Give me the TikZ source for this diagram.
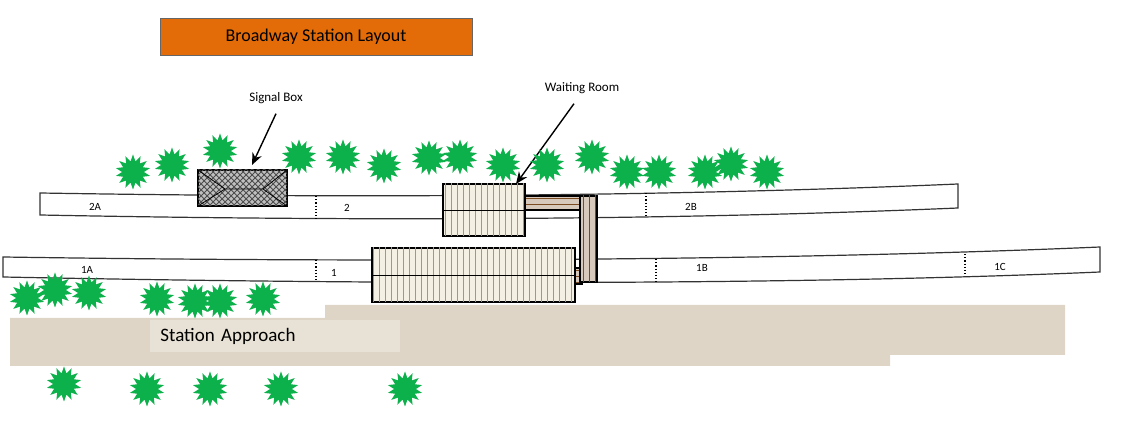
\documentclass[tikz,border=0pt]{standalone}
\usepackage{fontspec}
\setmainfont{Carlito}
\usetikzlibrary{shapes.geometric,patterns,arrows.meta}
\definecolor{tree}{HTML}{0DB14B}
\definecolor{ground}{HTML}{DED5C6}
\definecolor{lbl}{HTML}{E8E2D6}
\definecolor{orng}{HTML}{E36C09}
\definecolor{bld}{HTML}{F4F1E4}
\definecolor{strp}{HTML}{8C7E62}
\definecolor{brg}{HTML}{7A4A20}
\tikzset{
  tr/.style={star,star points=14,star point ratio=1.6,fill=tree,minimum size=17.5pt,inner sep=0pt},
  plat/.style={draw=black!80,line width=0.6pt,fill=white},
  div/.style={densely dotted,line width=0.6pt},
  lab/.style={font=\fontsize{5.5pt}{6pt}\selectfont},
  bldg/.style={draw=black,line width=0.6pt,fill=bld,postaction={pattern=vertical lines,pattern color=strp!80}},
  arr/.style={-{Stealth[length=6pt,width=5pt]},line width=0.7pt}
}
\begin{document}
\begin{tikzpicture}[x=0.5pt,y=-0.5pt]
\useasboundingbox (0,0) rectangle (1126,421);
% ground
\fill[ground] (10,318) -- (325,318) -- (325,305) -- (1065,305) -- (1065,355) -- (890,355) -- (890,366) -- (10,366) -- cycle;
\node[fill=lbl,minimum width=125pt,minimum height=16pt,inner sep=0pt,anchor=north west,text width=115pt,font=\fontsize{9.5pt}{10pt}\selectfont] (sa) at (150,320) {Station Approach};
% title
\node[fill=orng,draw=black!60,minimum width=156pt,minimum height=18.5pt,font=\fontsize{9pt}{10pt}\selectfont] (title) at (316,37) {Broadway Station Layout};
% platform 2
\draw[plat] (40,193) .. controls (400,199) and (700,195) .. (958,184) -- (958,208) .. controls (700,219) and (400,222) .. (40,215) -- cycle;
\draw[div] (316,196) -- (316,219);
\draw[div] (646,193) -- (646,216);
% platform 1
\draw[plat] (3,257) .. controls (400,263) and (800,260) .. (1100,247) -- (1100,272) .. controls (800,285) and (400,285) .. (3,277) -- cycle;
\draw[div] (316,260) -- (316,282);
\draw[div] (656,259) -- (656,282);
\draw[div] (965,254) -- (965,276);
\node[lab] (l2a) at (95,207) {2A};
\node[lab] (l2) at (347,208) {2};
\node[lab] (l2b) at (691,207) {2B};
\node[lab] (l1a) at (87,270) {1A};
\node[lab] (l1) at (334,273) {1};
\node[lab] (l1b) at (702,268) {1B};
\node[lab] (l1c) at (1000,267) {1C};
% signal box
\draw[line width=0.8pt,fill=black!25,postaction={pattern=crosshatch,pattern color=black!70}] (198,170) rectangle (287,206);
\draw[line width=0.4pt] (198,170) -- (225,189) -- (198,206) (287,170) -- (263,189) -- (287,206) (225,189) -- (263,189);
\coordinate (sb) at (252,165);
% footbridge
\draw[line width=0.6pt,fill=brg!30,postaction={pattern=horizontal lines,pattern color=brg}] (525,196) rectangle (582,210);
\draw[line width=0.6pt,fill=brg!30,postaction={pattern=horizontal lines,pattern color=brg}] (574,268) rectangle (582,284);
\draw[line width=0.6pt,fill=brg!30,postaction={pattern=vertical lines,pattern color=brg}] (580,196) rectangle (597,282);
% buildings
\draw[bldg] (443,184) rectangle (525,236);
\draw[line width=0.4pt] (443,210) -- (525,210);
\coordinate (wr) at (516,184);
\draw[bldg] (372,248) rectangle (575,302);
\draw[line width=0.4pt] (372,275) -- (575,275);
% labels + arrows
\node[lab,font=\fontsize{6.5pt}{7pt}\selectfont] (sbl) at (276,98) {Signal Box};
\node[lab,font=\fontsize{6.5pt}{7pt}\selectfont] (wrl) at (582,88) {Waiting Room};
\draw[arr] (sbl.south) ++(0,3) -- (sb);
\draw[arr] (wrl.south) ++(-8,3) -- (wr);
% trees
\foreach \x/\y [count=\i] in {133/172,172/165,220/151,299/157,343/157,384/166,429/158,460/157,503/165,547/165,592/157,627/172,659/172,705/172,731/164,767/172,27/298,55/290,89/293,157/299,195/301,220/301,263/299,64/384,147/389,210/389,281/389,405/389}
  \node[tr] (t\i) at (\x,\y) {};
\end{tikzpicture}
\end{document}
